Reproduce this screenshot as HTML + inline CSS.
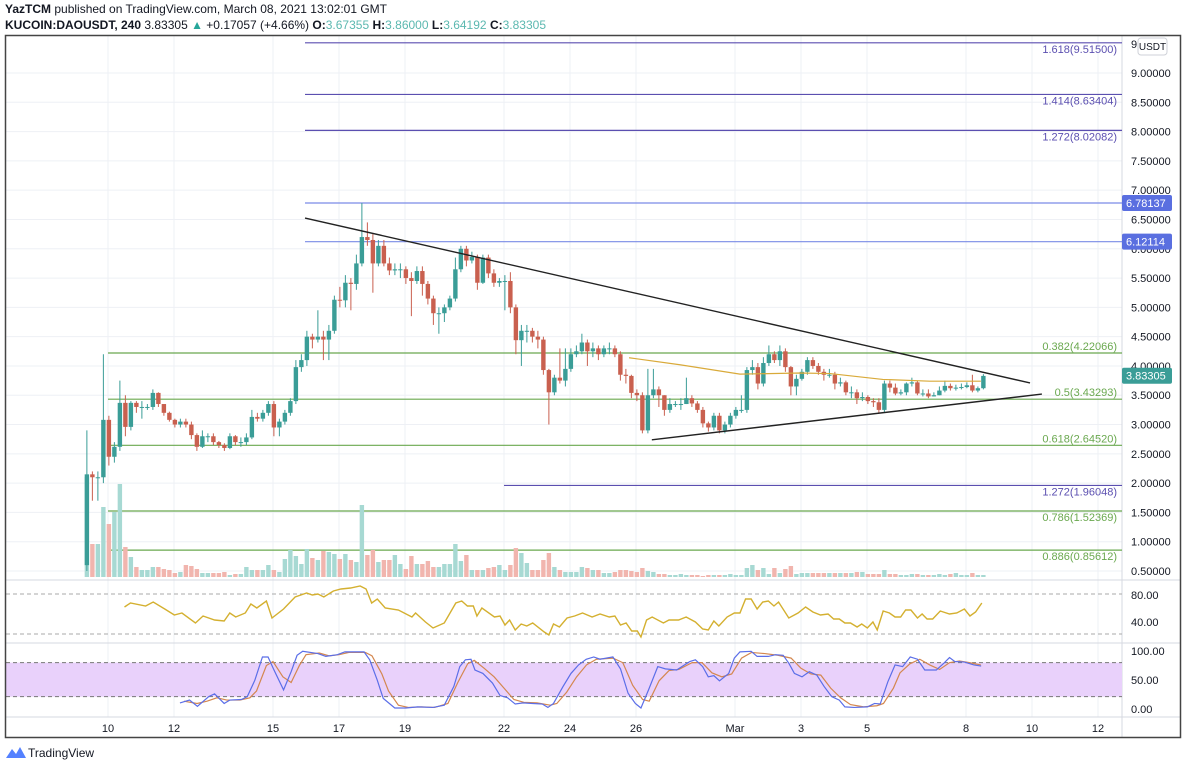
<!DOCTYPE html>
<html><head><meta charset="utf-8">
<style>
html,body{margin:0;padding:0;background:#fff;}
svg{display:block;font-family:"Liberation Sans",sans-serif;}
</style></head>
<body>
<svg id="chart" width="1186" height="768" viewBox="0 0 1186 768" xmlns="http://www.w3.org/2000/svg">
<defs><clipPath id="mainClip"><rect x="6" y="36" width="1116" height="543"/></clipPath>
<clipPath id="plotClip"><rect x="6" y="36" width="1116" height="681"/></clipPath></defs>
<text x="5" y="13" font-size="12" fill="#131722"><tspan font-weight="bold">YazTCM</tspan> published on TradingView.com, March 08, 2021 13:02:01 GMT</text>
<text x="5" y="29" font-size="12" fill="#131722"><tspan font-weight="bold">KUCOIN:DAOUSDT, 240</tspan> 3.83305 <tspan fill="#26a69a">▲</tspan> +0.17057 (+4.66%) <tspan font-weight="bold">O:</tspan><tspan fill="#5bb8b0">3.67355</tspan> <tspan font-weight="bold">H:</tspan><tspan fill="#5bb8b0">3.86000</tspan> <tspan font-weight="bold">L:</tspan><tspan fill="#5bb8b0">3.64192</tspan> <tspan font-weight="bold">C:</tspan><tspan fill="#5bb8b0">3.83305</tspan></text>
<g id="grid"></g>
<g id="fills"></g>
<g id="lines" clip-path="url(#mainClip)"></g>
<g id="vol" clip-path="url(#mainClip)"></g>
<g id="candles" clip-path="url(#mainClip)"></g>
<g id="draw" clip-path="url(#mainClip)"></g>
<g id="ind" clip-path="url(#plotClip)"></g>
<g id="axis"></g>
<rect x="5.5" y="35.5" width="1175" height="702" fill="none" stroke="#444" stroke-width="1.5"/>
<g>
<path d="M6 758 L12 749 L16 754 L20 747 L26 758 Z" fill="#2962ff" opacity="0.8"/>
<text x="28" y="757" font-size="12" fill="#131722">TradingView</text>
</g>
</svg>
<script>
// ---- data ----
const startDay = 9.36; // day (Feb) of first 4h candle
const closes = [2.15,2.1,2.1,3.08,2.45,2.62,3.37,2.96,3.37,3.3, 3.3,3.3,3.54,3.35,3.2,3.08,3.0,3.05,3.0,2.82, 2.62,2.8,2.8,2.7,2.65,2.6,2.8,2.7,2.7,2.78, 3.13,3.1,3.2,3.35,2.95,3.05,3.2,3.4,3.98,4.1, 4.5,4.45,4.5,4.45,4.6,5.13,5.12,5.42,5.4,5.75, 6.2,6.15,5.75,6.05,5.75,5.63,5.65,5.65,5.5,5.45, 5.62,5.4,5.15,4.9,4.9,5.0,5.15,5.65,6.0,5.8, 5.86,5.42,5.85,5.58,5.42,5.45,5.45,5.0,4.44,4.6, 4.6,4.5,4.45,3.93,3.55,3.8,3.75,3.95,4.2,4.25, 4.4,4.25,4.3,4.2,4.3,4.3,4.2,3.85,3.83,3.54, 3.5,2.9,3.5,3.6,3.5,3.25,3.35,3.35,3.35,3.45, 3.36,3.25,3.02,2.95,3.15,2.9,3.0,3.15,3.25,3.25, 3.93,3.98,3.7,4.05,4.2,4.1,4.25,3.98,3.65,3.78, 3.9,4.1,4.0,3.9,3.85,3.85,3.7,3.72,3.55,3.55, 3.45,3.47,3.4,3.38,3.25,3.7,3.63,3.53,3.55,3.7, 3.72,3.53,3.53,3.48,3.5,3.58,3.66,3.62,3.63,3.64, 3.67,3.58,3.62,3.83];
const firstOpen = 0.6;
const highs = [2.9,2.2,2.2,4.2,3.15,2.7,3.75,3.5,3.4,3.4, 3.4,3.35,3.6,3.55,3.35,3.22,3.1,3.1,3.1,3.05, 2.85,2.9,2.85,2.85,2.72,2.68,2.85,2.82,2.78,2.85, 3.25,3.2,3.25,3.4,3.4,3.1,3.25,3.45,4.1,4.2, 4.6,4.55,4.95,4.6,4.7,5.2,5.35,5.55,5.5,5.9, 6.78,6.45,6.25,6.15,6.15,5.85,5.75,5.75,5.7,5.6, 5.7,5.7,5.45,5.2,5.0,5.05,5.2,5.85,6.05,6.05, 5.95,5.9,5.9,5.9,5.65,5.5,5.55,5.6,5.05,4.7, 4.7,4.65,4.6,4.5,3.95,3.85,4.3,4.3,4.3,4.35, 4.55,4.45,4.4,4.35,4.35,4.4,4.35,4.25,3.95,3.85, 3.6,3.55,3.95,3.95,3.65,3.5,3.45,3.4,3.45,3.8, 3.5,3.4,3.3,3.05,3.2,3.2,3.05,3.2,3.3,3.5, 3.98,4.1,4.05,4.15,4.35,4.25,4.35,4.3,4.0,3.85, 3.95,4.15,4.15,4.05,3.95,3.95,3.9,3.8,3.75,3.65, 3.6,3.55,3.5,3.45,3.45,3.75,3.75,3.7,3.6,3.72, 3.8,3.75,3.6,3.6,3.55,3.65,3.75,3.7,3.68,3.7, 3.72,3.85,3.65,3.86];
const lows = [0.5,1.7,1.7,2.0,2.3,2.35,2.55,2.8,2.9,3.2, 3.1,3.25,3.25,3.3,3.15,3.05,2.95,2.95,2.95,2.75, 2.55,2.6,2.7,2.65,2.6,2.55,2.58,2.65,2.62,2.65, 2.75,3.05,3.05,3.15,2.8,2.8,3.0,3.15,3.35,3.9, 4.0,4.3,4.4,4.1,4.1,4.55,5.0,5.0,4.95,5.3, 5.7,6.05,5.25,5.7,5.7,5.55,5.55,5.5,5.4,4.85, 5.4,5.2,5.05,4.7,4.55,4.75,4.95,5.1,5.6,5.7, 5.75,5.3,5.4,5.5,5.35,5.35,4.95,4.9,4.2,4.0, 4.4,4.4,4.3,3.85,3.0,3.5,3.7,3.65,3.9,4.15, 4.2,4.0,4.15,4.1,4.15,4.2,4.15,3.75,3.7,3.45, 3.4,2.85,2.85,3.45,3.3,3.15,3.2,3.3,3.25,3.35, 3.3,3.2,2.95,2.88,2.9,2.85,2.85,2.95,3.1,3.2, 3.2,3.85,3.6,3.65,4.0,4.05,4.0,3.9,3.5,3.5, 3.75,3.85,3.95,3.85,3.75,3.8,3.6,3.65,3.5,3.45, 3.35,3.4,3.35,3.3,3.2,3.2,3.55,3.5,3.5,3.5, 3.65,3.5,3.48,3.45,3.48,3.5,3.55,3.58,3.58,3.6, 3.62,3.55,3.55,3.6];
const volumes = [100,33,33,70,53,65,93,30,20,10, 7,7,10,10,8,7,4,5,12,11, 8,4,4,4,4,5,2,3,3,10, 7,7,7,12,7,5,18,27,21,13, 28,19,17,26,25,23,18,23,17,15, 72,22,27,15,17,17,22,13,8,21, 13,13,16,10,10,13,13,33,16,22, 7,7,7,9,10,12,7,12,29,24, 14,7,7,17,24,10,7,5,5,5, 10,9,7,7,4,4,5,7,7,6, 5,9,6,5,3,3,2,2,3,2, 2,2,1,2,2,2,2,3,2,2, 9,12,7,9,3,9,4,8,11,3, 4,4,4,4,4,4,4,4,4,4, 5,5,3,3,3,7,3,3,2,2, 3,3,2,2,2,3,2,3,4,2, 2,4,2,2];
const maDays = [25.79,27.33,29.15,30.97,31.88,33.48,34.9,36.45];
const maVals = [4.14,4.02,3.86,3.88,3.87,3.77,3.74,3.74];
const rsiDays = [10.50,10.68,11.14,11.37,11.72,12.01,12.24,12.65,12.88,13.23,13.52,13.69,13.87,14.16,14.33,14.51,14.80,14.97,15.32,15.67,16.02,16.19,16.36,16.54,16.83,17.06,17.35,17.64,17.82,17.99,18.16,18.40,18.80,19.21,19.32,19.62,19.85,20.19,20.54,20.72,20.89,21.07,21.18,21.33,21.71,21.88,22.03,22.17,22.34,22.52,22.69,22.87,23.22,23.36,23.50,23.68,23.91,24.14,24.38,24.67,24.91,25.19,25.36,25.53,25.70,25.87,26.04,26.15,26.32,26.49,26.83,27.00,27.29,27.52,27.80,28.02,28.19,28.36,28.51,28.76,28.98,29.15,29.32,29.49,29.67,29.84,30.01,30.18,30.32,30.63,30.91,31.14,31.36,31.59,31.82,31.99,32.16,32.33,32.50,32.70,32.84,33.01,33.18,33.31,33.49,33.68,33.85,34.02,34.17,34.33,34.53,34.67,34.82,34.99,35.22,35.50,35.72,35.95,36.12,36.29,36.48];
const rsiVals = [57,61,58,62,55,49,51,41,48,44,43,51,47,51,60,56,63,46,55,67,71,69,70,67,73,75,76,78,75,61,65,56,54,47,51,42,36,41,61,63,58,58,48,56,47,48,39,44,34,40,38,41,32,29,40,37,46,48,51,47,50,47,48,39,41,33,33,27,44,47,41,44,44,47,42,35,34,43,38,47,51,51,65,65,55,62,63,58,62,46,51,57,52,49,50,45,45,41,41,37,40,36,42,34,53,51,47,47,54,54,46,50,45,45,53,50,51,55,48,52,61];
const kDays = [12.18,12.47,12.71,13.05,13.23,13.52,13.69,14.04,14.22,14.45,14.68,14.85,15.03,15.32,15.55,15.73,15.90,16.36,16.60,16.95,17.18,17.76,17.93,18.16,18.34,18.69,19.03,19.38,19.85,20.19,20.48,20.66,20.83,21.00,21.12,21.36,21.65,21.88,22.11,22.34,22.58,22.87,23.16,23.33,23.50,23.79,24.03,24.26,24.49,24.72,24.91,25.30,25.53,25.76,25.98,26.15,26.38,26.66,26.89,27.23,27.63,27.80,28.02,28.19,28.36,28.53,28.81,28.98,29.15,29.49,29.67,30.01,30.23,30.46,30.63,30.80,31.03,31.25,31.48,31.70,31.93,32.16,32.33,32.61,33.01,33.23,33.40,33.63,33.85,34.08,34.31,34.53,34.75,35.10,35.33,35.50,35.66,35.95,36.24,36.46];
const kVals = [9,14,3,20,25,8,14,15,20,49,90,90,67,32,64,93,100,96,91,94,99,99,85,49,17,0,0,2,1,5,38,73,85,86,67,61,44,22,18,7,9,8,7,1,8,38,61,76,86,90,86,90,69,26,8,0,32,73,69,67,82,85,73,55,57,48,61,88,99,100,91,91,94,93,79,61,55,64,58,38,20,14,2,1,2,8,7,46,76,73,90,86,67,67,79,89,82,81,76,74];
const dDays = [12.3,12.7,13.0,13.3,13.6,14.0,14.3,14.5,14.8,15.0,15.3,15.55,15.8,16.0,16.4,16.7,17.0,17.3,17.8,18.0,18.3,18.5,18.8,19.1,19.5,19.9,20.3,20.6,20.9,21.1,21.4,21.7,22.0,22.3,22.6,23.0,23.4,23.6,23.9,24.2,24.5,24.8,25.3,25.6,25.9,26.2,26.4,26.7,27.0,27.3,27.7,28.0,28.3,28.6,28.9,29.2,29.5,29.9,30.3,30.7,31.0,31.3,31.6,31.9,32.2,32.5,32.9,33.3,33.5,33.8,34.0,34.3,34.6,34.9,35.2,35.5,35.8,36.1,36.45];
const dVals = [12,8,12,18,14,14,18,30,75,82,55,45,75,94,97,92,94,98,98,92,60,30,5,1,2,1,8,45,78,84,70,55,35,15,10,9,5,8,28,55,76,86,88,80,40,15,12,48,66,68,80,80,62,55,60,88,98,96,93,88,70,60,58,35,18,6,2,4,8,35,62,78,86,76,68,80,83,80,76];
const priceTicks = [9,8.5,8,7.5,7,6.5,6,5.5,5,4.5,4,3.5,3,2.5,2,1.5,1,0.5];
const timeTickDays = [10,12,15,17,19,22,24,26,29,31,33,36,38,40];
const timeTickLabels = ["10","12","15","17","19","22","24","26","Mar","3","5","8","10","12"];
const fibLabels = ["1.618(9.51500)","1.414(8.63404)","1.272(8.02082)","0.382(4.22066)","0.5(3.43293)","0.618(2.64520)","1.272(1.96048)","0.786(1.52369)","0.886(0.85612)"];
const fibPrices = [9.515,8.63404,8.02082,4.22066,3.43293,2.6452,1.96048,1.52369,0.85612];
const fibStartDays = [15.97,15.97,15.97,10,10,10,22,10,10];
const fibColors = ["#5b4fb0","#5b4fb0","#5b4fb0","#6aa84f","#6aa84f","#6aa84f","#5b4fb0","#6aa84f","#6aa84f"];
const levelPrices = [6.78137,6.12114];
const lastPrice = 3.83305;
const upperTrend = [[15.97,6.525],[37.94,3.71]];
const lowerTrend = [[26.48,2.74],[38.3,3.52]];

// ---- scales ----
const xD = d => 108 + (d - 10) * 33;
const yP = p => 73 + (9 - p) * 58.59;
const yV = v => 577 - v;
const yR = r => 594 + (70 - r);
const yS = v => 708 - v * 0.567;
const NS = "http://www.w3.org/2000/svg";
function mk(tag, attrs, parent){const e=document.createElementNS(NS,tag);for(const k in attrs)e.setAttribute(k,attrs[k]);parent.appendChild(e);return e;}
const G = id => document.getElementById(id);

// grid
const grid = G('grid');
timeTickDays.forEach(d=>{const l=mk('line',{x1:xD(d),x2:xD(d),y1:36,y2:717,stroke:'#eef0f5'},grid);

});
priceTicks.forEach(p=>{const l=mk('line',{x1:6,x2:1122,y1:yP(p),y2:yP(p),stroke:'#eef0f5'},grid);

});
[580,643,717].forEach(y=>{const l=mk('line',{x1:6,x2:1180,y1:y,y2:y,stroke:'#d6d9e0'},grid);

});
const vs = mk('line',{x1:1122,x2:1122,y1:36,y2:737,stroke:'#d6d9e0'},grid);



// stoch band
const fills = G('fills');
const band = mk('rect',{x:6,y:yS(80),width:1116,height:yS(20)-yS(80),fill:'#e9d1fb'},fills);


[80,20].forEach(v=>{const l=mk('line',{x1:6,x2:1122,y1:yS(v),y2:yS(v),stroke:'#777','stroke-dasharray':'4,3'},fills);

});
[70,30].forEach(v=>{const l=mk('line',{x1:6,x2:1122,y1:yR(v),y2:yR(v),stroke:'#aaa','stroke-dasharray':'4,3'},fills);

});

// fib + level lines
const lines = G('lines');
fibPrices.forEach((p,i)=>{const l=mk('line',{x1:xD(fibStartDays[i]),x2:1122,y1:yP(p),y2:yP(p),stroke:fibColors[i],'stroke-width':1.2},lines);


const below = i<3 || i>=6;
const t=mk('text',{x:1117,y:yP(p)+(below?10:-3),'text-anchor':'end','font-size':11,fill:fibColors[i]},lines);
t.textContent=fibLabels[i];

});
levelPrices.forEach(p=>{const l=mk('line',{x1:xD(15.97),x2:1122,y1:yP(p),y2:yP(p),stroke:'#7a8be6','stroke-width':1.2},lines);

});

// volume + candles
const vol=G('vol'), cg=G('candles');
closes.forEach((c,i)=>{
  const o = i===0?firstOpen:closes[i-1];
  const x = xD(startDay + i/6);
  const up = c>=o;
  const vb = mk('rect',{x:x-2.2,y:yV(volumes[i]),width:4.4,height:volumes[i],fill:up?'#a7d9d3':'#f1b5ae'},vol);
  
  
  const col = up?'#3a9d97':'#c9604f';
  const w = mk('line',{x1:x,x2:x,y1:yP(highs[i]),y2:yP(lows[i]),stroke:col,'stroke-width':1},cg);
  
  
  const top=yP(Math.max(o,c)), bot=yP(Math.min(o,c));
  const b = mk('rect',{x:x-2.2,y:top,width:4.4,height:Math.max(1,bot-top),fill:col},cg);
  
  
});

// drawings
const dr=G('draw');
const ma = mk('polyline',{points:maDays.map((d,i)=>xD(d)+','+yP(maVals[i])).join(' '),fill:'none',stroke:'#d9aa3a','stroke-width':1.2},dr);


[upperTrend,lowerTrend].forEach((t,k)=>{const l=mk('line',{x1:xD(t[0][0]),y1:yP(t[0][1]),x2:xD(t[1][0]),y2:yP(t[1][1]),stroke:'#222','stroke-width':1.4},dr);

});

// indicators
const ind=G('ind');
const rsi = mk('polyline',{points:rsiDays.map((d,i)=>xD(d)+','+yR(rsiVals[i])).join(' '),fill:'none',stroke:'#d4b030','stroke-width':1.4},ind);


const dl = mk('polyline',{points:dDays.map((d,i)=>xD(d)+','+yS(dVals[i])).join(' '),fill:'none',stroke:'#d4874f','stroke-width':1.2},ind);


const kl = mk('polyline',{points:kDays.map((d,i)=>xD(d)+','+yS(kVals[i])).join(' '),fill:'none',stroke:'#5b6ee8','stroke-width':1.2},ind);



// axes
const ax=G('axis');
priceTicks.forEach(p=>{const t=mk('text',{x:1131,y:yP(p)+4,'font-size':11,fill:'#131722'},ax);t.textContent=p.toFixed(5);

});
const n9=mk('text',{x:1131,y:48,'font-size':11,fill:'#131722'},ax);n9.textContent='9';


const ub=mk('rect',{x:1138,y:38,width:29,height:17,rx:3,fill:'#fff',stroke:'#cfd2d8'},ax);


const ut=mk('text',{x:1152.5,y:50,'text-anchor':'middle','font-size':10,fill:'#131722'},ax);ut.textContent='USDT';


function tag(p,txt,col,name){const y=yP(p);const r=mk('rect',{x:1122,y:y-8,width:50,height:16,fill:col,rx:2},ax);


const t=mk('text',{x:1126,y:y+4,'font-size':11,fill:'#fff'},ax);t.textContent=txt;

}
tag(levelPrices[0],levelPrices[0].toFixed(5),'#5a6fe0','level-price-tag');
tag(levelPrices[1],levelPrices[1].toFixed(5),'#5a6fe0','level-price-tag');
tag(lastPrice,lastPrice.toFixed(5),'#3a9d97','last-price-tag');
[['80.00',595],['40.00',622],['100.00',651],['50.00',680],['0.00',709]].forEach(a=>{const t=mk('text',{x:1131,y:a[1]+4,'font-size':11,fill:'#131722'},ax);t.textContent=a[0];

});
timeTickDays.forEach((d,i)=>{const t=mk('text',{x:xD(d),y:732,'text-anchor':'middle','font-size':11,fill:'#131722'},ax);t.textContent=timeTickLabels[i];

});
</script>
</body></html>
